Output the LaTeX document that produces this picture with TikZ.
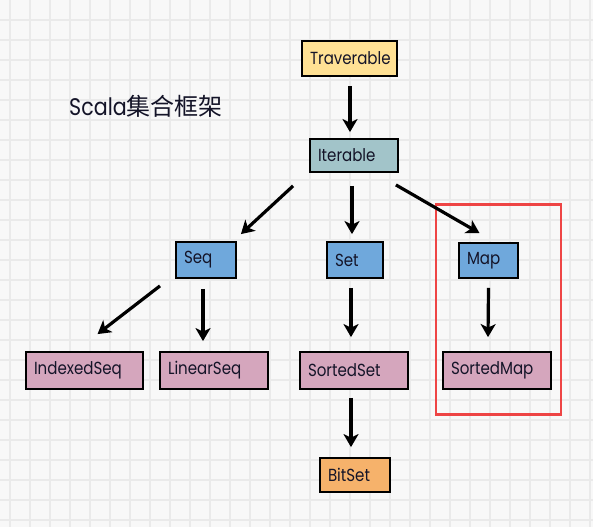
\documentclass[tikz,border=0pt]{standalone}
\usepackage{fontspec}
\setmainfont{Poppins}[FakeStretch=0.86]
\newfontfamily\cjk{Noto Sans CJK SC}
\usetikzlibrary{arrows.meta}
\definecolor{bgc}{HTML}{F8F8F8}
\definecolor{gridc}{HTML}{EAEAEA}
\definecolor{travc}{HTML}{FFE194}
\definecolor{iterc}{HTML}{A2C4C9}
\definecolor{bluec}{HTML}{6FA8DC}
\definecolor{pinkc}{HTML}{D5A6BD}
\definecolor{orangec}{HTML}{F6B26B}
\definecolor{redc}{HTML}{EE4444}
\definecolor{txtc}{HTML}{141428}
\tikzset{
  box/.style={draw=black, line width=1.8pt, inner xsep=8pt, inner ysep=0pt, align=left,
    font=\fontsize{17.5}{20}\selectfont, text=txtc},
  arr/.style={line width=3.2pt, -{Stealth[length=13pt,width=15pt,inset=3.5pt]}}
}
\begin{document}
\begin{tikzpicture}[x=1pt,y=-1pt]
\fill[bgc] (0,0) rectangle (593,527);
\useasboundingbox (0,0) rectangle (593,527);
\foreach \gx in {10,30,...,590} \draw[gridc, line width=1.2pt] (\gx,0) -- (\gx,527);
\foreach \gy in {20,40,...,520} \draw[gridc, line width=1.2pt] (0,\gy) -- (593,\gy);

\node[font=\fontsize{24}{27}\selectfont, text=txtc, anchor=west, inner sep=0pt] (title) at (69,106) {Scala{\cjk 集合框架}};

\node[box, fill=travc, text width=79pt, minimum height=35pt] (trav) at (349.5,58.5) {Traverable};
\node[box, fill=iterc, text width=72pt, minimum height=33pt] (it) at (354,155.5) {Iterable};
\node[box, fill=bluec, text width=44pt, minimum height=36pt] (seq) at (206,260) {Seq};
\node[box, fill=bluec, text width=40pt, minimum height=36pt] (set) at (355,260) {Set};
\node[box, fill=bluec, text width=43pt, minimum height=35pt] (map) at (488.5,260.5) {Map};
\node[box, fill=pinkc, text width=101pt, minimum height=37pt] (idx) at (84.5,370.5) {IndexedSeq};
\node[box, fill=pinkc, text width=92pt, minimum height=37pt] (lin) at (214,370.5) {LinearSeq};
\node[box, fill=pinkc, text width=92pt, minimum height=37pt] (sset) at (354,370.5) {SortedSet};
\node[box, fill=pinkc, text width=92pt, minimum height=37pt] (smap) at (497,370.5) {SortedMap};
\node[box, fill=orangec, text width=54pt, minimum height=34pt] (bit) at (355,475) {BitSet};

\node[draw=redc, line width=2.4pt, minimum width=125pt, minimum height=210pt, inner sep=0pt] (frame) at (498.5,309.5) {};

\draw[arr] ([shift={(0.5,9)}]trav.south) -- ([shift={(0.5,-6)}]trav.south |- it.north);
\draw[arr] ([shift={(-16,13)}]it.south west) -- ([shift={(4,-7)}]seq.north east);
\draw[arr] ([shift={(-2,13)}]it.south) -- ([shift={(-3,-7)}]set.north);
\draw[arr] ([shift={(-3,12)}]it.south east) -- ([shift={(-9,-9)}]map.north);
\draw[arr] ([shift={(-46,7)}]seq.south) -- ([shift={(13,-17)}]idx.north);
\draw[arr] ([shift={(-3,10)}]seq.south) -- ([shift={(-11,-10)}]lin.north);
\draw[arr] ([shift={(-4,9)}]set.south) -- ([shift={(-3,-14)}]sset.north);
\draw[arr] ([shift={(0,9)}]map.south) -- ([shift={(-9,-14)}]smap.north);
\draw[arr] ([shift={(-3,8)}]sset.south) -- ([shift={(-4,-10)}]bit.north);
\end{tikzpicture}
\end{document}
